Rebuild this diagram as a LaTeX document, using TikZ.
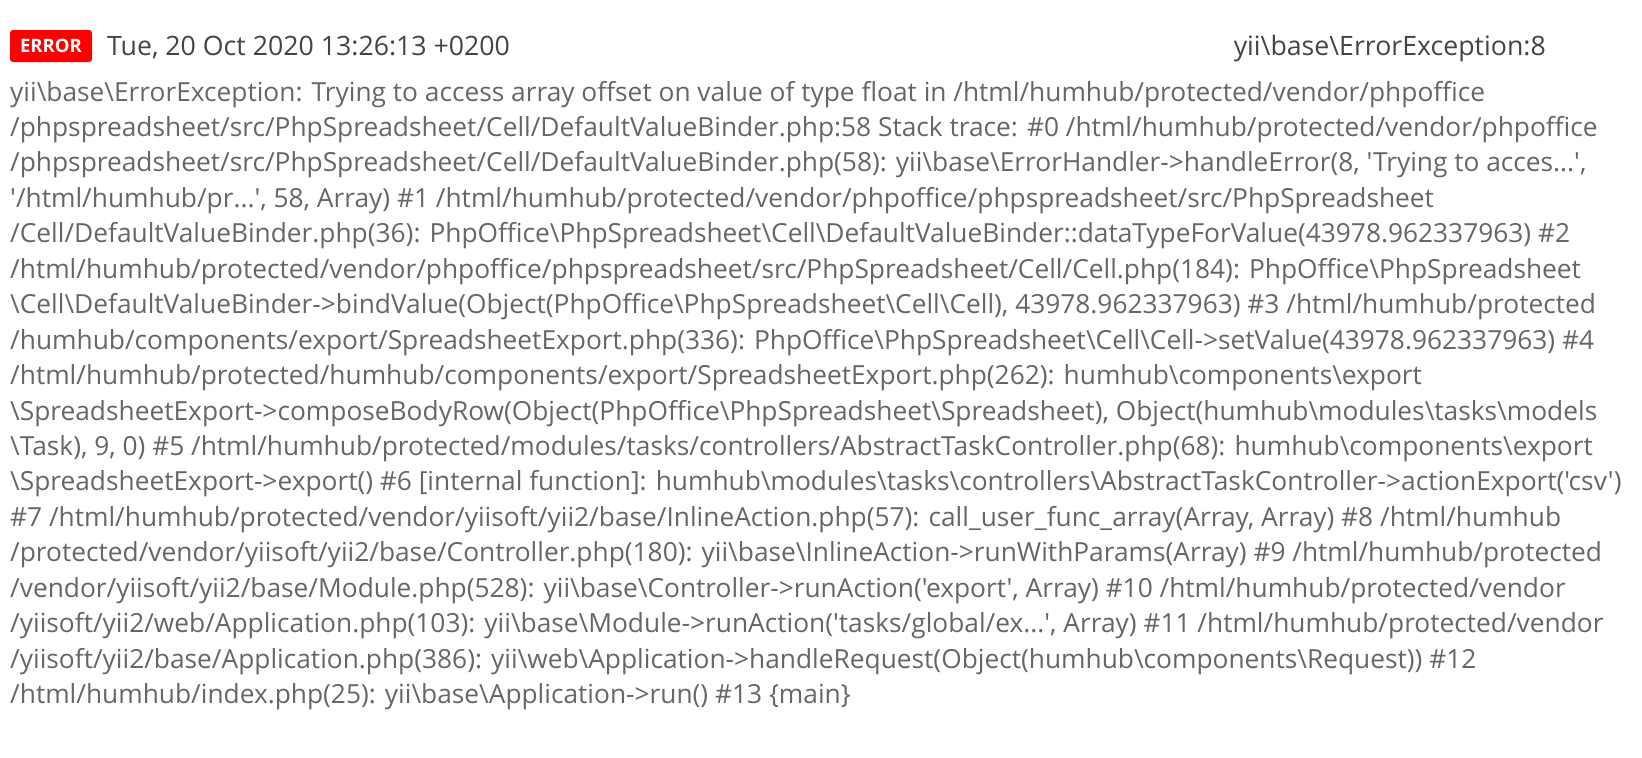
\documentclass[tikz,border=0pt]{standalone}
\usepackage{fontspec}
\newfontfamily\body{Open Sans}
\newcommand{\bs}{\textbackslash}
\newcommand{\q}{\char39}
\definecolor{hdr}{HTML}{444444}
\definecolor{txt}{HTML}{666666}
\definecolor{badge}{HTML}{FF0000}
\begin{document}
\begin{tikzpicture}[x=1pt,y=-1pt,
  ln/.style={anchor=base west,inner sep=0pt,text=txt,font=\body\fontsize{26.3}{28}\selectfont}]
\useasboundingbox (0,0) rectangle (1642,758);
\node[fill=badge,rounded corners=3pt,minimum width=82pt,minimum height=32pt,inner sep=0pt,text=white,font=\body\bfseries\fontsize{18.5}{20}\selectfont] (badge) at (51,46) {ERROR};
\node[anchor=base west,inner sep=0pt,text=hdr,font=\body\fontsize{26.7}{29}\selectfont] (date) at (107,55) {Tue, 20 Oct 2020 13:26:13 +0200};
\node[anchor=base east,inner sep=0pt,text=hdr,font=\body\fontsize{26.7}{29}\selectfont] (cls) at (1546,55) {yii\bs base\bs ErrorException:8};
\foreach \i/\t in {
0/{yii\bs base\bs ErrorException: Trying to access array offset on value of type float in /html/humhub/protected/vendor/phpoffice},
1/{/phpspreadsheet/src/PhpSpreadsheet/Cell/DefaultValueBinder.php:58 Stack trace: \#0 /html/humhub/protected/vendor/phpoffice},
2/{/phpspreadsheet/src/PhpSpreadsheet/Cell/DefaultValueBinder.php(58): yii\bs base\bs ErrorHandler->handleError(8, \q Trying to acces...\q ,},
3/{\q /html/humhub/pr...\q , 58, Array) \#1 /html/humhub/protected/vendor/phpoffice/phpspreadsheet/src/PhpSpreadsheet},
4/{/Cell/DefaultValueBinder.php(36): PhpOffice\bs PhpSpreadsheet\bs Cell\bs DefaultValueBinder::dataTypeForValue(43978.962337963) \#2},
5/{/html/humhub/protected/vendor/phpoffice/phpspreadsheet/src/PhpSpreadsheet/Cell/Cell.php(184): PhpOffice\bs PhpSpreadsheet},
6/{\bs Cell\bs DefaultValueBinder->bindValue(Object(PhpOffice\bs PhpSpreadsheet\bs Cell\bs Cell), 43978.962337963) \#3 /html/humhub/protected},
7/{/humhub/components/export/SpreadsheetExport.php(336): PhpOffice\bs PhpSpreadsheet\bs Cell\bs Cell->setValue(43978.962337963) \#4},
8/{/html/humhub/protected/humhub/components/export/SpreadsheetExport.php(262): humhub\bs components\bs export},
9/{\bs SpreadsheetExport->composeBodyRow(Object(PhpOffice\bs PhpSpreadsheet\bs Spreadsheet), Object(humhub\bs modules\bs tasks\bs models},
10/{\bs Task), 9, 0) \#5 /html/humhub/protected/modules/tasks/controllers/AbstractTaskController.php(68): humhub\bs components\bs export},
11/{\bs SpreadsheetExport->export() \#6 [internal function]: humhub\bs modules\bs tasks\bs controllers\bs AbstractTaskController->actionExport(\q csv\q )},
12/{\#7 /html/humhub/protected/vendor/yiisoft/yii2/base/InlineAction.php(57): call\_user\_func\_array(Array, Array) \#8 /html/humhub},
13/{/protected/vendor/yiisoft/yii2/base/Controller.php(180): yii\bs base\bs InlineAction->runWithParams(Array) \#9 /html/humhub/protected},
14/{/vendor/yiisoft/yii2/base/Module.php(528): yii\bs base\bs Controller->runAction(\q export\q , Array) \#10 /html/humhub/protected/vendor},
15/{/yiisoft/yii2/web/Application.php(103): yii\bs base\bs Module->runAction(\q tasks/global/ex...\q , Array) \#11 /html/humhub/protected/vendor},
16/{/yiisoft/yii2/base/Application.php(386): yii\bs web\bs Application->handleRequest(Object(humhub\bs components\bs Request)) \#12},
17/{/html/humhub/index.php(25): yii\bs base\bs Application->run() \#13 \{main\}}}
  \node[ln] (l\i) at (10,{101+35.45*\i}) {\t};
\end{tikzpicture}
\end{document}
